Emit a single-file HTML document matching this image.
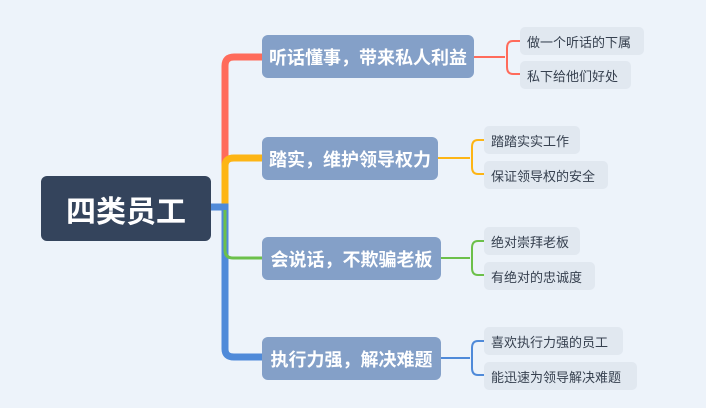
<!DOCTYPE html>
<html><head><meta charset="utf-8"><style>
body{margin:0;width:706px;height:408px;background:#edf3fa;overflow:hidden;font-family:"Liberation Sans","Noto Sans CJK SC",sans-serif;position:relative}
.b{position:absolute;border-radius:6px;display:flex;align-items:center;justify-content:center}
.root{background:#34445c;color:#fff;font-size:30px;font-weight:bold}
.br{background:#84a0c8;color:#fff;font-size:18px;font-weight:bold}
.lf{background:#e1e8f0;color:#36404f;font-size:13px;border-radius:5px;justify-content:flex-start;padding-left:7px;box-sizing:border-box}
svg{position:absolute;left:0;top:0}
</style></head><body>
<svg width="706" height="408" fill="none">
<path d="M211 207 H225 V66 Q225 57 234 57 H262" stroke="#ff6b5b" stroke-width="7"/>
<path d="M211 207 H225 V166 Q225 158 234 158 H262" stroke="#fdb515" stroke-width="7"/>
<path d="M211 207 H225 V349 Q225 357 234 357 H262" stroke="#4f8ad9" stroke-width="7"/>
<path d="M225 210 V250 Q225 258 233 258 H262" stroke="#6cc04a" stroke-width="3"/>
<g stroke-width="2">
<path d="M474 57 H505 M520 41 H513 Q507 41 507 48 V67 Q507 74 513 74 H520" stroke="#ff6b5b"/>
<path d="M438 158 H470 M484 140 H478 Q472 140 472 147 V167 Q472 174 478 174 H484" stroke="#fdb515"/>
<path d="M441 258 H470 M484 241 H478 Q472 241 472 248 V268 Q472 275 478 275 H484" stroke="#6cc04a"/>
<path d="M441 358 H470 M484 341 H478 Q472 341 472 348 V368 Q472 375 478 375 H484" stroke="#4f8ad9"/>
</g></svg>
<div class="b root" style="left:41px;top:176px;width:170px;height:65px">四类员工</div>
<div class="b br" style="left:262px;top:35px;width:212px;height:43px">听话懂事，带来私人利益</div>
<div class="b br" style="left:262px;top:137px;width:176px;height:43px">踏实，维护领导权力</div>
<div class="b br" style="left:262px;top:237px;width:179px;height:43px">会说话，不欺骗老板</div>
<div class="b br" style="left:262px;top:337px;width:179px;height:43px">执行力强，解决难题</div>
<div class="b lf" style="left:520px;top:27px;width:124px;height:28px">做一个听话的下属</div>
<div class="b lf" style="left:520px;top:61px;width:111px;height:28px">私下给他们好处</div>
<div class="b lf" style="left:484px;top:126px;width:96px;height:28px">踏踏实实工作</div>
<div class="b lf" style="left:484px;top:161px;width:124px;height:28px">保证领导权的安全</div>
<div class="b lf" style="left:484px;top:227px;width:96px;height:28px">绝对崇拜老板</div>
<div class="b lf" style="left:484px;top:262px;width:111px;height:28px">有绝对的忠诚度</div>
<div class="b lf" style="left:484px;top:327px;width:139px;height:28px">喜欢执行力强的员工</div>
<div class="b lf" style="left:484px;top:362px;width:153px;height:28px">能迅速为领导解决难题</div>
</body></html>
